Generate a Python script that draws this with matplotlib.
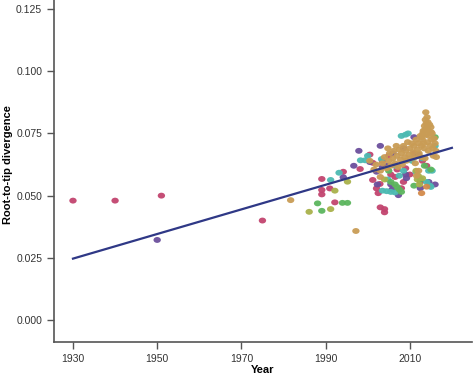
import matplotlib
matplotlib.use("Agg")
from matplotlib import pyplot as plt
from matplotlib.markers import MarkerStyle
from matplotlib.transforms import Affine2D

plt.rcParams["font.family"] = ["Liberation Sans", "DejaVu Sans"]

# sampled tips, grouped by colour in the original figure
magenta_year = [1930, 1940, 1951, 1975, 1989.1, 1989.1, 1989.1, 1991, 1992.2, 1994.2,
                1998.2, 2001.2, 2001.2, 2002.9, 2002.1, 2002.5, 2003, 2004, 2004, 2005.5,
                2006.5, 2008, 2008.5, 2003.5, 2005, 2009, 2011, 2013, 2014, 2010,
                2012.5, 2000.5, 2007]
magenta_div = [0.048, 0.048, 0.050, 0.040, 0.0567, 0.0523, 0.0505, 0.0529, 0.0473, 0.0596,
               0.0607, 0.0632, 0.0563, 0.0547, 0.0529, 0.0510, 0.0453, 0.0446, 0.0433, 0.0585,
               0.0575, 0.0530, 0.0555, 0.0640, 0.0660, 0.0610, 0.0670, 0.0640, 0.0620, 0.0585,
               0.0555, 0.0665, 0.0605]

purple_year = [1950, 1994.2, 1996.7, 1997.9, 2002.1, 2002.3, 2003.5, 2004.5, 2005.5, 2005.8,
               2007.3, 2009, 2009.2, 2012.5, 2014.5, 2016, 2006, 2008.5, 2011, 2003,
               2012, 2000.5]
purple_div = [0.0322, 0.0574, 0.0620, 0.0680, 0.0596, 0.0545, 0.0615, 0.0620, 0.0545, 0.0525,
              0.0502, 0.0585, 0.0570, 0.0530, 0.0555, 0.0545, 0.0670, 0.0690, 0.0735, 0.0700,
              0.0665, 0.0635]

teal_year = [1991.2, 1993.2, 1998.3, 1999.4, 2003.3, 2003.5, 2004.5, 2005.5, 2006.5, 2004.8,
             2007.5, 2008.5, 2010.5, 2014.5, 2015.3, 2014, 2014.8, 2015, 2008, 2009,
             2013, 2016, 2000, 2011.5, 2006.5, 2009.6]
teal_div = [0.0563, 0.0592, 0.0642, 0.0642, 0.0647, 0.0520, 0.0518, 0.0515, 0.0513, 0.0565,
            0.0580, 0.0600, 0.0640, 0.0600, 0.0600, 0.0555, 0.0540, 0.0535, 0.0740, 0.0745,
            0.0650, 0.0700, 0.0660, 0.0595, 0.0620, 0.0750]

green_year = [1988.1, 1989.1, 1994, 1995.2, 2005.5, 2006.5, 2007, 2007.5, 2008, 2005,
              2013.5, 2012.5, 2011, 2015, 2016]
green_div = [0.0469, 0.0439, 0.0471, 0.0471, 0.0555, 0.0545, 0.0535, 0.0525, 0.0515, 0.0600,
             0.0620, 0.0565, 0.0540, 0.0605, 0.0735]

olive_year = [1986.1, 1991.2, 1992.2, 1995.2, 2011.5, 2012, 2011.8, 2012.3, 2013, 2004]
olive_div = [0.0435, 0.0446, 0.0520, 0.0556, 0.0600, 0.0580, 0.0565, 0.0545, 0.0570, 0.0565]

orange_year = [2014, 2012.8]
orange_div = [0.0536, 0.0510]

gold_year = [1981.7, 1997.2, 2001.5, 2002, 2003, 2003.5, 2004, 2004.5, 2005, 2005.2,
             2005.5, 2006, 2006.2, 2006.5, 2006.8, 2007, 2007.2, 2007.5, 2007.8, 2008,
             2008.2, 2008.5, 2008.8, 2009, 2009.2, 2009.5, 2009.8, 2010, 2010.2, 2010.5,
             2010.8, 2011, 2011.2, 2011.5, 2011.8, 2012, 2012.2, 2012.5, 2012.8, 2013,
             2013.2, 2013.4, 2013.5, 2013.7, 2013.8, 2013.9, 2014, 2014.2, 2014.3, 2014.5,
             2014.6, 2014.8, 2015, 2015.2, 2015.3, 2015.5, 2015.8, 2016, 2016.2, 2013.3,
             2012.7, 2011.3, 2014.4, 2015.6, 2013.6, 2012.1, 2011.6, 2016.3, 2000.5, 2004.8,
             2003, 2013.9, 2014.1, 2013.6, 2014.7, 2015.1, 2012.9, 2013.1]
gold_div = [0.0482, 0.0358, 0.0605, 0.0625, 0.0600, 0.0630, 0.0655, 0.0610, 0.0640, 0.0670,
            0.0620, 0.0650, 0.0680, 0.0630, 0.0700, 0.0660, 0.0615, 0.0685, 0.0645, 0.0670,
            0.0625, 0.0700, 0.0655, 0.0680, 0.0640, 0.0715, 0.0665, 0.0690, 0.0650, 0.0710,
            0.0675, 0.0700, 0.0655, 0.0725, 0.0685, 0.0710, 0.0670, 0.0740, 0.0700, 0.0725,
            0.0760, 0.0690, 0.0780, 0.0805, 0.0835, 0.0745, 0.0770, 0.0715, 0.0795, 0.0740,
            0.0760, 0.0700, 0.0775, 0.0725, 0.0750, 0.0690, 0.0730, 0.0710, 0.0680, 0.0710,
            0.0655, 0.0630, 0.0680, 0.0660, 0.0650, 0.0600, 0.0580, 0.0655, 0.0640, 0.0690,
            0.0575, 0.0790, 0.0815, 0.0765, 0.0785, 0.0755, 0.0735, 0.0750]

# regression line end points
fit_year = [1930, 2020]
fit_div = [0.0247, 0.0692]

groups = [
    (magenta_year, magenta_div, "#c2446f"),
    (purple_year, purple_div, "#6b4f9c"),
    (teal_year, teal_div, "#4cbab2"),
    (green_year, green_div, "#5cb65e"),
    (olive_year, olive_div, "#a9b14b"),
    (orange_year, orange_div, "#d38a4b"),
    (gold_year, gold_div, "#c99c55"),
]

fig = plt.figure(figsize=(4.74, 3.76), dpi=100)
ax = fig.add_axes([0.114, 0.0904, 0.882, 0.9096])

# dots are slightly wider than tall in the original
dot = MarkerStyle("o", transform=Affine2D().scale(1.25, 1.0))
for xs, ys, c in groups:
    ax.scatter(xs, ys, s=18, marker=dot, color=c, edgecolors="none", alpha=0.95, zorder=2)

ax.plot(fit_year, fit_div, color="#2f3886", lw=1.6, zorder=3)

ax.set_xlim(1925.5, 2024.8)
ax.set_ylim(-0.0088, 0.1286)
ax.set_xticks([1930, 1950, 1970, 1990, 2010])
ax.set_yticks([0.0, 0.025, 0.05, 0.075, 0.1, 0.125])
ax.set_yticklabels(["0.000", "0.025", "0.050", "0.075", "0.100", "0.125"])

for side in ["top", "right"]:
    ax.spines[side].set_visible(False)
for side in ["left", "bottom"]:
    ax.spines[side].set_color("#555555")
    ax.spines[side].set_linewidth(1.2)
ax.tick_params(colors="#555555", labelcolor="#333333", labelsize=7.5, length=5, width=1)

ax.set_xlabel("Year", fontsize=8, fontweight="bold", labelpad=1)
ax.set_ylabel("Root-to-tip divergence", fontsize=8, fontweight="bold")
ax.yaxis.set_label_coords(-0.097, 0.52)

fig.savefig("out.png", dpi=100)
